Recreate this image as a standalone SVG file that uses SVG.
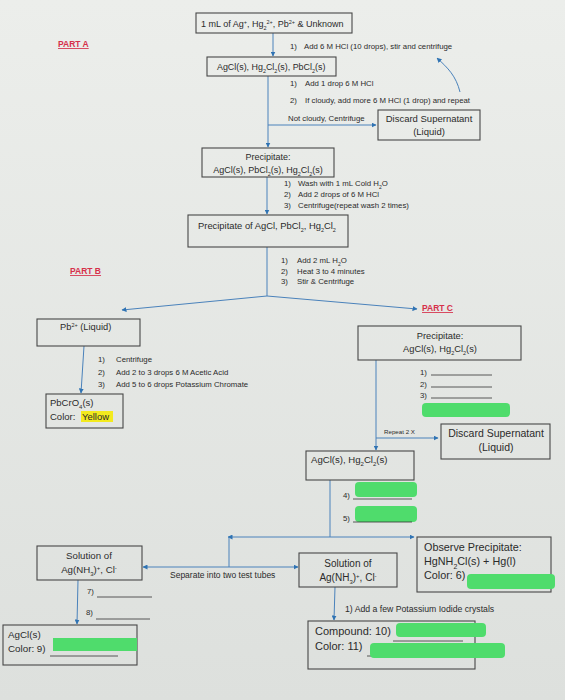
<svg xmlns="http://www.w3.org/2000/svg" width="565" height="700" viewBox="0 0 565 700">
<defs>
<linearGradient id="bg" x1="0" y1="0" x2="0" y2="1">
<stop offset="0" stop-color="#eceeeb"/>
<stop offset="1" stop-color="#dde0dd"/>
</linearGradient>
<marker id="ah" viewBox="0 0 10 10" refX="9" refY="5" markerWidth="5" markerHeight="5" orient="auto">
<path d="M0,0 L10,5 L0,10 z" fill="#2f73b3"/>
</marker>
<style>
.box{fill:none;stroke:#474747;stroke-width:1.1}
.t{font-family:'Liberation Sans',Arial,sans-serif;fill:#2b2b2b}
.lb{font-size:9px}
.st{font-size:7.8px}
.c{text-anchor:middle}
.conn{stroke:#4a82bb;stroke-width:1;fill:none}
.arr{marker-end:url(#ah)}
.part{font-family:'Liberation Sans',Arial,sans-serif;font-size:8.5px;font-weight:bold;fill:#d6304a;text-decoration:underline}
.hl{fill:#4fdc6c}
.bl{stroke:#333;stroke-width:0.8}
</style>
</defs>
<rect width="565" height="700" fill="url(#bg)"/>

<text class="part" x="58" y="47">PART A</text>
<text class="part" x="70" y="274">PART B</text>
<text class="part" x="422" y="311">PART C</text>

<g id="connectors">
<path class="conn arr" d="M273 33 V56"/>
<path class="conn arr" d="M268 76 V147"/>
<path class="conn arr" d="M268 125 H376"/>
<path class="conn arr" d="M460 92 C456 76,448 68,437 58"/>
<path class="conn arr" d="M267 177 V214"/>
<path class="conn" d="M267 247 V296"/>
<path class="conn arr" d="M267 296 L122 310"/>
<path class="conn arr" d="M267 296 L417 309"/>
<path class="conn arr" d="M84 346 L81 393"/>
<path class="conn arr" d="M376 360 V450"/>
<path class="conn arr" d="M376 438 H438"/>
<path class="conn" d="M330 480 V537"/>
<path class="conn arr" d="M330 537 H414"/>
<path class="conn arr" d="M330 537 H228"/>
<path class="conn" d="M229 537 V567"/>
<path class="conn arr" d="M229 567 H143"/>
<path class="conn arr" d="M229 567 H298"/>
<path class="conn arr" d="M78 580 L77 624"/>
<path class="conn arr" d="M335 587 L334 620"/>
</g>

<g id="start">
<rect class="box" x="196" y="13" width="156" height="20"/>
<text class="t" font-size="9" x="201" y="27">1 mL of Ag<tspan baseline-shift="super" font-size="5.5">+</tspan>, Hg<tspan baseline-shift="sub" font-size="5.5">2</tspan><tspan baseline-shift="super" font-size="5.5">2+</tspan>, Pb<tspan baseline-shift="super" font-size="5.5">2+</tspan> &amp; Unknown</text>
</g>

<g id="stepA1">
<text class="t st" x="290" y="49">1)</text>
<text class="t st" x="304" y="49">Add 6 M HCl (10 drops), stir and centrifuge</text>
</g>

<g id="chlorides">
<rect class="box" x="207" y="57" width="129" height="19"/>
<text class="t" font-size="8.9" x="217" y="70">AgCl(s), Hg<tspan baseline-shift="sub" font-size="5.5">2</tspan>Cl<tspan baseline-shift="sub" font-size="5.5">2</tspan>(s), PbCl<tspan baseline-shift="sub" font-size="5.5">2</tspan>(s)</text>
</g>

<g id="stepA2">
<text class="t st" x="290" y="86">1)</text>
<text class="t st" x="305" y="86">Add 1 drop 6 M HCl</text>
<text class="t st" x="290" y="103">2)</text>
<text class="t st" x="305" y="103">If cloudy, add more 6 M HCl (1 drop) and repeat</text>
<text class="t st" x="288" y="121">Not cloudy, Centrifuge</text>
</g>

<g id="discard1">
<rect class="box" x="378" y="110" width="102" height="30"/>
<text class="t c" font-size="9.5" x="429" y="122">Discard Supernatant</text>
<text class="t c" font-size="9.5" x="429" y="135">(Liquid)</text>
</g>

<g id="precip1">
<rect class="box" x="202" y="148" width="132" height="29"/>
<text class="t c" font-size="9" x="268" y="160">Precipitate:</text>
<text class="t c" font-size="9" x="268" y="172.5">AgCl(s), PbCl<tspan baseline-shift="sub" font-size="5.5">2</tspan>(s), Hg<tspan baseline-shift="sub" font-size="5.5">2</tspan>Cl<tspan baseline-shift="sub" font-size="5.5">2</tspan>(s)</text>
</g>

<g id="stepA3">
<text class="t st" x="284" y="186">1)</text>
<text class="t st" x="298" y="186">Wash with 1 mL Cold H<tspan baseline-shift="sub" font-size="5">2</tspan>O</text>
<text class="t st" x="284" y="197">2)</text>
<text class="t st" x="298" y="197">Add 2 drops of 6 M HCl</text>
<text class="t st" x="284" y="208">3)</text>
<text class="t st" x="298" y="208">Centrifuge(repeat wash 2 times)</text>
</g>

<g id="precip2">
<rect class="box" x="188" y="215" width="160" height="32"/>
<text class="t" font-size="9.4" x="198" y="228.5">Precipitate of AgCl, PbCl<tspan baseline-shift="sub" font-size="5.5">2</tspan>, Hg<tspan baseline-shift="sub" font-size="5.5">2</tspan>Cl<tspan baseline-shift="sub" font-size="5.5">2</tspan></text>
</g>

<g id="stepA4">
<text class="t st" x="281" y="263">1)</text>
<text class="t st" x="297" y="263">Add 2 mL H<tspan baseline-shift="sub" font-size="5">2</tspan>O</text>
<text class="t st" x="281" y="273.5">2)</text>
<text class="t st" x="297" y="273.5">Heat 3 to 4 minutes</text>
<text class="t st" x="281" y="284">3)</text>
<text class="t st" x="297" y="284">Stir &amp; Centrifuge</text>
</g>

<g id="pbLiquid">
<rect class="box" x="37" y="319" width="103" height="27"/>
<text class="t" font-size="9.3" x="60" y="329.5">Pb<tspan baseline-shift="super" font-size="5.5">2+</tspan> (Liquid)</text>
</g>

<g id="stepB">
<text class="t st" x="98" y="362">1)</text>
<text class="t st" x="116" y="362">Centrifuge</text>
<text class="t st" x="98" y="374.5">2)</text>
<text class="t st" x="116" y="374.5">Add 2 to 3 drops 6 M Acetic Acid</text>
<text class="t st" x="98" y="387">3)</text>
<text class="t st" x="116" y="387">Add 5 to 6 drops Potassium Chromate</text>
</g>

<g id="pbcro4">
<rect class="box" x="46" y="394" width="77" height="34"/>
<rect x="81" y="411" width="32" height="11" fill="#f3ea1e"/>
<text class="t" font-size="9.5" x="50" y="405.5">PbCrO<tspan baseline-shift="sub" font-size="6">4</tspan>(s)</text>
<text class="t" font-size="9.5" x="50" y="420">Color:</text>
<text class="t" font-size="9.5" x="82" y="420">Yellow</text>
</g>

<g id="precipC">
<rect class="box" x="358" y="326" width="163" height="34"/>
<text class="t c" font-size="9.3" x="440" y="339">Precipitate:</text>
<text class="t c" font-size="9.3" x="440" y="351.5">AgCl(s), Hg<tspan baseline-shift="sub" font-size="5.5">2</tspan>Cl<tspan baseline-shift="sub" font-size="5.5">2</tspan>(s)</text>
</g>

<g id="stepC1">
<text class="t st" x="420" y="375">1)</text>
<line class="bl" x1="431" y1="375" x2="492" y2="375"/>
<text class="t st" x="420" y="387">2)</text>
<line class="bl" x1="431" y1="387" x2="492" y2="387"/>
<text class="t st" x="420" y="398">3)</text>
<line class="bl" x1="431" y1="398" x2="492" y2="398"/>
<rect class="hl" x="422" y="403" width="88" height="14" rx="4"/>
<text class="t" font-size="6.2" x="384" y="434">Repeat 2 X</text>
</g>

<g id="discard2">
<rect class="box" x="441" y="424" width="109" height="35"/>
<text class="t c" font-size="10.5" x="496" y="437">Discard Supernatant</text>
<text class="t c" font-size="10.5" x="496" y="451">(Liquid)</text>
</g>

<g id="agclHg">
<rect class="box" x="306" y="451" width="108" height="29"/>
<text class="t" font-size="9.6" x="311" y="463">AgCl(s), Hg<tspan baseline-shift="sub" font-size="6">2</tspan>Cl<tspan baseline-shift="sub" font-size="6">2</tspan>(s)</text>
</g>

<g id="stepC2">
<rect class="hl" x="355" y="482" width="62" height="15" rx="4"/>
<text class="t st" x="343" y="498">4)</text>
<line class="bl" x1="353" y1="499" x2="412" y2="499"/>
<rect class="hl" x="355" y="506" width="62" height="16" rx="4"/>
<text class="t st" x="343" y="521">5)</text>
<line class="bl" x1="353" y1="522" x2="412" y2="522"/>
</g>

<g id="observe">
<rect class="box" x="417" y="537" width="134" height="55"/>
<text class="t" font-size="10.8" x="424" y="551">Observe Precipitate:</text>
<text class="t" font-size="10.8" x="424" y="565">HgNH<tspan baseline-shift="sub" font-size="7">2</tspan>Cl(s) + Hg(l)</text>
<text class="t" font-size="10.8" x="424" y="579">Color: 6)</text>
<rect class="hl" x="467" y="574" width="88" height="15" rx="4"/>
</g>

<text class="t" font-size="8.5" x="170" y="578">Separate into two test tubes</text>

<g id="solutionLeft">
<rect class="box" x="37" y="546" width="105" height="34"/>
<text class="t c" font-size="9.7" x="89" y="559">Solution of</text>
<text class="t c" font-size="9.7" x="89" y="572.5">Ag(NH<tspan baseline-shift="sub" font-size="6">3</tspan>)<tspan baseline-shift="super" font-size="6">+</tspan>, Cl<tspan baseline-shift="super" font-size="6">-</tspan></text>
</g>

<g id="stepD">
<text class="t st" x="87" y="594">7)</text>
<line class="bl" x1="97" y1="597" x2="152" y2="597"/>
<text class="t st" x="86" y="615">8)</text>
<line class="bl" x1="96" y1="619" x2="150" y2="619"/>
</g>

<g id="agclFinal">
<rect class="box" x="3" y="625" width="134" height="40"/>
<text class="t" font-size="9.8" x="8" y="637.5">AgCl(s)</text>
<text class="t" font-size="9.8" x="8" y="651.5">Color: 9)</text>
<line class="bl" x1="50" y1="656" x2="118" y2="656"/>
<rect class="hl" x="53" y="638" width="84" height="13"/>
</g>

<g id="solutionRight">
<rect class="box" x="299" y="553" width="98" height="34"/>
<text class="t c" font-size="10" x="348" y="566.5">Solution of</text>
<text class="t c" font-size="10" x="348" y="580.5">Ag(NH<tspan baseline-shift="sub" font-size="6">3</tspan>)<tspan baseline-shift="super" font-size="6">+</tspan>, Cl<tspan baseline-shift="super" font-size="6">-</tspan></text>
</g>

<text class="t" font-size="8.7" x="345" y="612">1) Add a few Potassium Iodide crystals</text>

<g id="compound">
<rect class="box" x="308" y="621" width="167" height="48"/>
<text class="t" font-size="11" x="315" y="635">Compound: 10)</text>
<line class="bl" x1="393" y1="641" x2="463" y2="641"/>
<rect class="hl" x="396" y="623" width="90" height="14" rx="4"/>
<text class="t" font-size="11" x="315" y="650">Color: 11)</text>
<line class="bl" x1="367" y1="656" x2="465" y2="656"/>
<rect class="hl" x="370" y="643" width="135" height="15" rx="4"/>
</g>
</svg>
